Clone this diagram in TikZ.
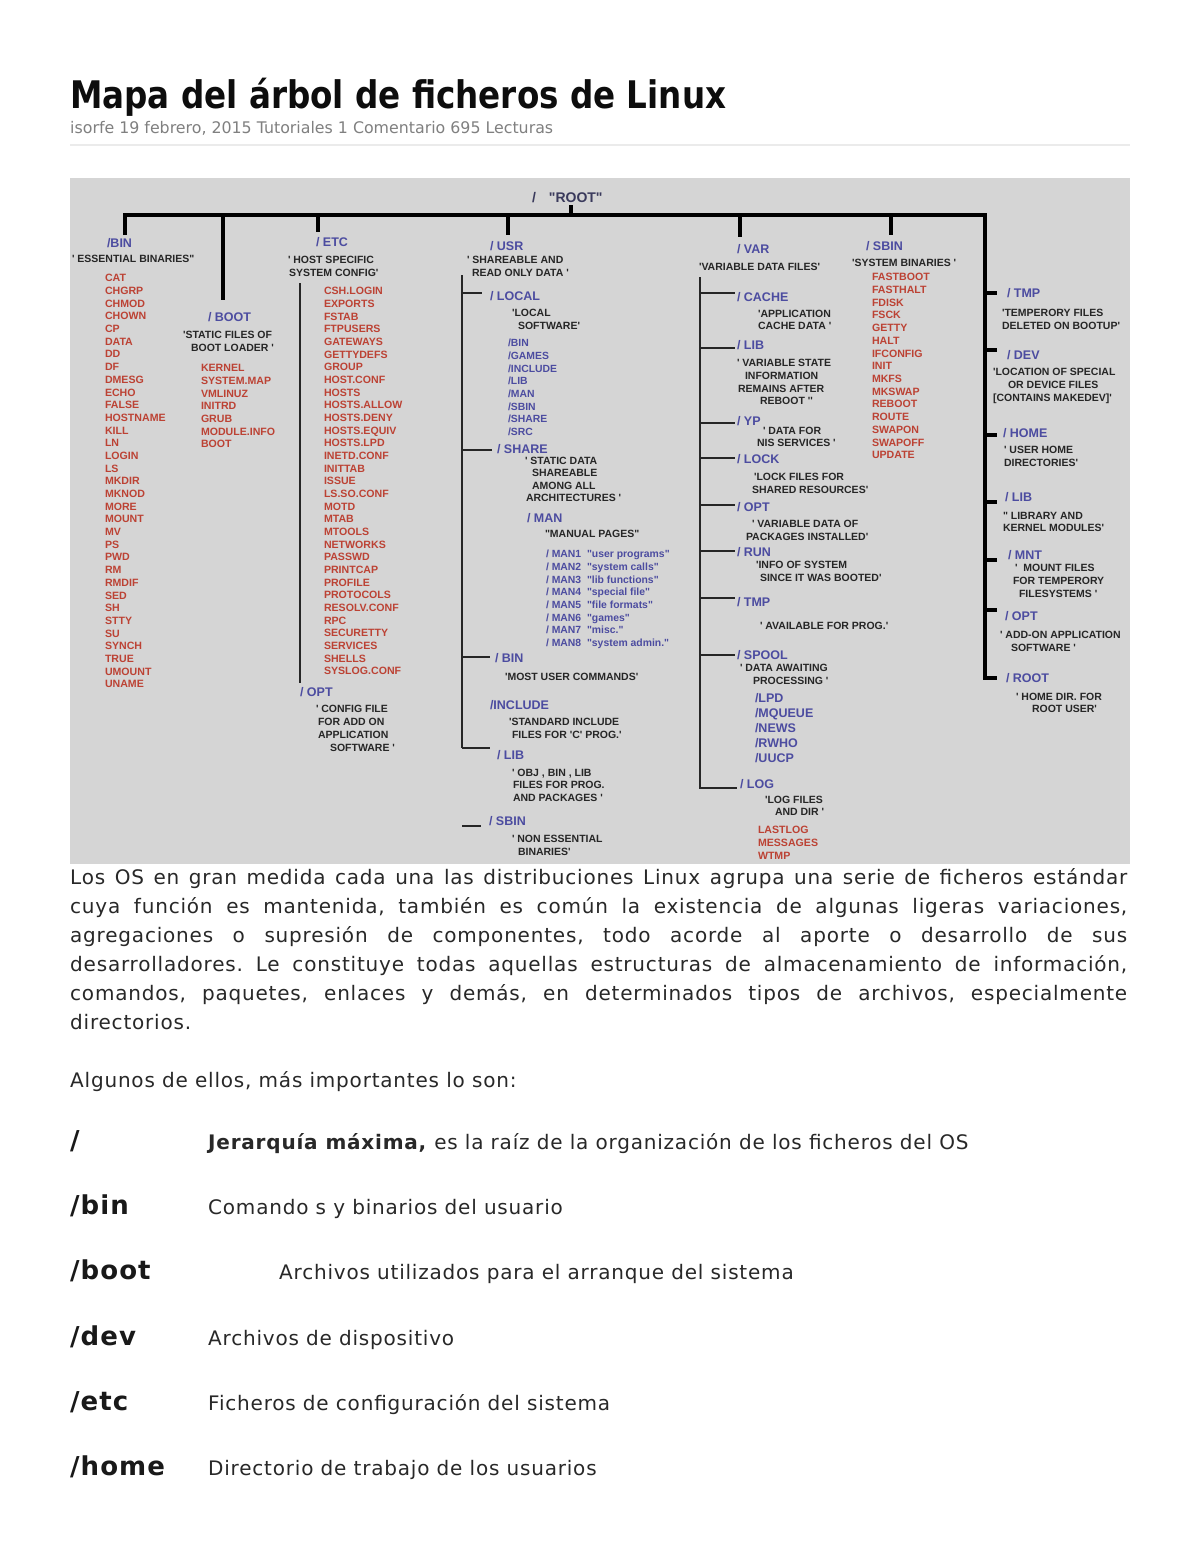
\documentclass[tikz,border=0pt]{standalone}
\usepackage{fontspec}
\setmainfont{DejaVu Sans}
\newfontfamily\bodyf{DejaVu Sans}[LetterSpace=4]
\newfontfamily\arialf{Liberation Sans}
\definecolor{bgc}{RGB}{213,213,213}
\definecolor{bluec}{RGB}{76,76,160}
\definecolor{redc}{RGB}{188,66,52}
\definecolor{rootc}{RGB}{58,58,92}
\definecolor{textc}{RGB}{40,40,40}
\frenchspacing
\newcommand\jl[1]{\hbox to 1057pt{\frenchspacing\spaceskip=0.25em plus 1fil\relax #1}}
\tikzset{
 lbl/.style={anchor=west, inner sep=0pt, outer sep=0pt, text depth=0pt},
 blu/.style={lbl, font=\arialf\bfseries\fontsize{12.5}{12.5}\selectfont, text=bluec, text height=9pt},
 sblu/.style={lbl, font=\arialf\bfseries\fontsize{10.4}{10.4}\selectfont, text=bluec, text height=7.4pt},
 blk/.style={lbl, font=\arialf\bfseries\fontsize{10.5}{10.5}\selectfont, text=black!85, text height=7.5pt},
 redt/.style={lbl, font=\arialf\bfseries\fontsize{10.6}{10.6}\selectfont, text=redc, text height=7.6pt},
 bus/.style={line width=4pt, black},
 sub/.style={line width=1.5pt, black!85},
 bodyt/.style={anchor=base west, inner sep=0pt, text=textc, font=\bodyf\fontsize{20}{29}\selectfont},
 headt/.style={anchor=base west, inner sep=0pt, text=black!90, font=\bodyf\bfseries\fontsize{26}{26}\selectfont},
}
\begin{document}
\begin{tikzpicture}[x=1pt,y=-1pt]
\useasboundingbox (0,0) rectangle (1200,1553);
\fill[white] (0,0) rectangle (1200,1553);
% title
\node[anchor=base west, inner sep=0pt, text=black!95] (title) at (70,108)
  {\resizebox{656pt}{\height}{\fontsize{38}{38}\selectfont\bfseries Mapa del árbol de ficheros de Linux}};
\node[anchor=base west, inner sep=0pt, text=black!50] (sub) at (70,133)
  {\resizebox{483pt}{\height}{\fontsize{16}{16}\selectfont isorfe 19 febrero, 2015 Tutoriales 1 Comentario 695 Lecturas}};
\draw[black!8, line width=1.5pt] (70,145) -- (1130,145);
% diagram background
\fill[bgc] (70,178) rectangle (1130,864);
% root
\node[lbl, font=\arialf\bfseries\fontsize{14}{14}\selectfont, text=rootc, text height=10pt] (root) at (532,197) {/\hspace{13pt}"ROOT"};
\draw[bus] (571,205) -- (571,215);
\draw[bus] (125,235) -- (125,215) -- (985,215) -- (985,680);
\draw[bus] (223,215) -- (223,300);
\draw[bus] (318,215) -- (318,232);
\draw[bus] (508,215) -- (508,235);
\draw[bus] (740,215) -- (740,237);
\draw[bus] (891,215) -- (891,235);
\foreach \yy in {293,350,435,502,560,610,678} \draw[bus] (985,\yy) -- (997,\yy);

% BIN
\node[blu] (bin) at (107,243) {/BIN};
\node[blk] (bind) at (72,259) {' ESSENTIAL BINARIES"};
\foreach \t [count=\i from 0] in {CAT,CHGRP,CHMOD,CHOWN,CP,DATA,DD,DF,DMESG,ECHO,FALSE,HOSTNAME,KILL,LN,LOGIN,LS,MKDIR,MKNOD,MORE,MOUNT,MV,PS,PWD,RM,RMDIF,SED,SH,STTY,SU,SYNCH,TRUE,UMOUNT,UNAME}
  \node[redt] (bin\i) at (105,{278+\i*12.69}) {\t};

% BOOT
\node[blu] (boot) at (208,317) {/ BOOT};
\node[blk] (bootd1) at (183,335) {'STATIC FILES OF};
\node[blk] (bootd2) at (191,348) {BOOT LOADER '};
\foreach \t [count=\i from 0] in {KERNEL,SYSTEM.MAP,VMLINUZ,INITRD,GRUB,MODULE.INFO,BOOT}
  \node[redt] (boot\i) at (201,{368+\i*12.69}) {\t};

% ETC
\node[blu] (etc) at (316,242) {/ ETC};
\node[blk] (etcd1) at (288,260) {' HOST SPECIFIC};
\node[blk] (etcd2) at (289,273) {SYSTEM CONFIG'};
\draw[sub] (300,283) -- (300,683);
\foreach \t [count=\i from 0] in {CSH.LOGIN,EXPORTS,FSTAB,FTPUSERS,GATEWAYS,GETTYDEFS,GROUP,HOST.CONF,HOSTS,HOSTS.ALLOW,HOSTS.DENY,HOSTS.EQUIV,HOSTS.LPD,INETD.CONF,INITTAB,ISSUE,LS.SO.CONF,MOTD,MTAB,MTOOLS,NETWORKS,PASSWD,PRINTCAP,PROFILE,PROTOCOLS,RESOLV.CONF,RPC,SECURETTY,SERVICES,SHELLS,SYSLOG.CONF}
  \node[redt] (etc\i) at (324,{291+\i*12.67}) {\t};
\node[blu] (eopt) at (300,692) {/ OPT};
\node[blk] (eoptd1) at (316,709) {' CONFIG FILE};
\node[blk] (eoptd2) at (318,722) {FOR ADD ON};
\node[blk] (eoptd3) at (318,735) {APPLICATION};
\node[blk] (eoptd4) at (330,748) {SOFTWARE '};

% USR
\node[blu] (usr) at (490,246) {/ USR};
\node[blk] (usrd1) at (467,260) {' SHAREABLE AND};
\node[blk] (usrd2) at (472,273) {READ ONLY DATA '};
\draw[sub] (462,275) -- (462,748);
\draw[sub] (462,293) -- (482,293);
\draw[sub] (462,450) -- (492,450);
\draw[sub] (462,657) -- (490,657);
\draw[sub] (462,748) -- (490,748);
\draw[sub] (462,826) -- (481,826);
\node[blu] (ulocal) at (490,296) {/ LOCAL};
\node[blk] (ulocald1) at (512,313) {'LOCAL};
\node[blk] (ulocald2) at (518,326) {SOFTWARE'};
\foreach \t [count=\i from 0] in {/BIN,/GAMES,/INCLUDE,/LIB,/MAN,/SBIN,/SHARE,/SRC}
  \node[sblu] (ul\i) at (508,{343+\i*12.7}) {\t};
\node[blu] (ushare) at (497,449) {/ SHARE};
\node[blk] (usd1) at (525,461) {' STATIC DATA};
\node[blk] (usd2) at (532,473) {SHAREABLE};
\node[blk] (usd3) at (532,486) {AMONG ALL};
\node[blk] (usd4) at (526,498) {ARCHITECTURES '};
\node[blu] (uman) at (527,518) {/ MAN};
\node[blk] (umand) at (545,534) {"MANUAL PAGES"};
\node[sblu] (man1) at (546,554) {/ MAN1 \ "user programs"};
\node[sblu] (man2) at (546,566.7) {/ MAN2 \ "system calls"};
\node[sblu] (man3) at (546,579.4) {/ MAN3 \ "lib functions"};
\node[sblu] (man4) at (546,592.1) {/ MAN4 \ "special file"};
\node[sblu] (man5) at (546,604.8) {/ MAN5 \ "file formats"};
\node[sblu] (man6) at (546,617.5) {/ MAN6 \ "games"};
\node[sblu] (man7) at (546,630.2) {/ MAN7 \ "misc."};
\node[sblu] (man8) at (546,643) {/ MAN8 \ "system admin."};
\node[blu] (ubin) at (495,658) {/ BIN};
\node[blk] (ubind) at (505,677) {'MOST USER COMMANDS'};
\node[blu] (uinc) at (490,705) {/INCLUDE};
\node[blk] (uincd1) at (509,722) {'STANDARD INCLUDE};
\node[blk] (uincd2) at (512,735) {FILES FOR 'C' PROG.'};
\node[blu] (ulib) at (497,755) {/ LIB};
\node[blk] (ulibd1) at (512,773) {' OBJ , BIN , LIB};
\node[blk] (ulibd2) at (513,785) {FILES FOR PROG.};
\node[blk] (ulibd3) at (513,798) {AND PACKAGES '};
\node[blu] (usbin) at (489,821) {/ SBIN};
\node[blk] (usbind1) at (512,839) {' NON ESSENTIAL};
\node[blk] (usbind2) at (518,852) {BINARIES'};

% VAR
\node[blu] (var) at (737,249) {/ VAR};
\node[blk] (vard) at (699,267) {'VARIABLE DATA FILES'};
\draw[sub] (700,277) -- (700,788) -- (737,788);
\foreach \yy in {293,348,423,458,505,551,598,655} \draw[sub] (700,\yy) -- (735,\yy);
\node[blu] (vcache) at (737,297) {/ CACHE};
\node[blk] (vcd1) at (758,314) {'APPLICATION};
\node[blk] (vcd2) at (758,326) {CACHE DATA '};
\node[blu] (vlib) at (737,345) {/ LIB};
\node[blk] (vld1) at (737,363) {' VARIABLE STATE};
\node[blk] (vld2) at (745,376) {INFORMATION};
\node[blk] (vld3) at (738,389) {REMAINS AFTER};
\node[blk] (vld4) at (760,401) {REBOOT ''};
\node[blu] (vyp) at (737,421) {/ YP};
\node[blk] (vypd1) at (763,431) {' DATA FOR};
\node[blk] (vypd2) at (757,443) {NIS SERVICES '};
\node[blu] (vlock) at (737,459) {/ LOCK};
\node[blk] (vlkd1) at (754,477) {'LOCK FILES FOR};
\node[blk] (vlkd2) at (752,490) {SHARED RESOURCES'};
\node[blu] (vopt) at (737,507) {/ OPT};
\node[blk] (vod1) at (752,524) {' VARIABLE DATA OF};
\node[blk] (vod2) at (746,537) {PACKAGES INSTALLED'};
\node[blu] (vrun) at (737,552) {/ RUN};
\node[blk] (vrd1) at (756,565) {'INFO OF SYSTEM};
\node[blk] (vrd2) at (760,578) {SINCE IT WAS BOOTED'};
\node[blu] (vtmp) at (737,602) {/ TMP};
\node[blk] (vtd) at (760,626) {' AVAILABLE FOR PROG.'};
\node[blu] (vspool) at (737,655) {/ SPOOL};
\node[blk] (vsd1) at (740,668) {' DATA AWAITING};
\node[blk] (vsd2) at (753,681) {PROCESSING '};
\foreach \t [count=\i from 0] in {/LPD,/MQUEUE,/NEWS,/RWHO,/UUCP}
  \node[blu] (vs\i) at (755,{698+\i*15}) {\t};
\node[blu] (vlog) at (740,784) {/ LOG};
\node[blk] (vlgd1) at (765,800) {'LOG FILES};
\node[blk] (vlgd2) at (775,812) {AND DIR '};
\foreach \t [count=\i from 0] in {LASTLOG,MESSAGES,WTMP}
  \node[redt] (vlg\i) at (758,{830+\i*13}) {\t};

% SBIN
\node[blu] (sbin) at (866,246) {/ SBIN};
\node[blk] (sbind) at (852,263) {'SYSTEM BINARIES '};
\foreach \t [count=\i from 0] in {FASTBOOT,FASTHALT,FDISK,FSCK,GETTY,HALT,IFCONFIG,INIT,MKFS,MKSWAP,REBOOT,ROUTE,SWAPON,SWAPOFF,UPDATE}
  \node[redt] (sb\i) at (872,{277+\i*12.71}) {\t};

% right column
\node[blu] (rtmp) at (1007,293) {/ TMP};
\node[blk] (rtd1) at (1002,313) {'TEMPERORY FILES};
\node[blk] (rtd2) at (1002,326) {DELETED ON BOOTUP'};
\node[blu] (rdev) at (1007,355) {/ DEV};
\node[blk] (rdd1) at (993,372) {'LOCATION OF SPECIAL};
\node[blk] (rdd2) at (1008,385) {OR DEVICE FILES};
\node[blk] (rdd3) at (993,398) {[CONTAINS MAKEDEV]'};
\node[blu] (rhome) at (1003,433) {/ HOME};
\node[blk] (rhd1) at (1004,450) {' USER HOME};
\node[blk] (rhd2) at (1004,463) {DIRECTORIES'};
\node[blu] (rlib) at (1005,497) {/ LIB};
\node[blk] (rld1) at (1003,516) {" LIBRARY AND};
\node[blk] (rld2) at (1003,528) {KERNEL MODULES'};
\node[blu] (rmnt) at (1008,555) {/ MNT};
\node[blk] (rmd1) at (1015,568) {' \ MOUNT FILES};
\node[blk] (rmd2) at (1013,581) {FOR TEMPERORY};
\node[blk] (rmd3) at (1019,594) {FILESYSTEMS '};
\node[blu] (ropt) at (1005,616) {/ OPT};
\node[blk] (rod1) at (1000,635) {' ADD-ON APPLICATION};
\node[blk] (rod2) at (1011,648) {SOFTWARE '};
\node[blu] (rroot) at (1006,678) {/ ROOT};
\node[blk] (rrd1) at (1016,697) {' HOME DIR. FOR};
\node[blk] (rrd2) at (1032,709) {ROOT USER'};

% body text
\node[bodyt] (p1) at (70,884) {\jl{Los OS en gran medida cada una las distribuciones Linux agrupa una serie de ficheros estándar}};
\node[bodyt] (p2) at (70,913) {\jl{cuya función es mantenida, también es común la existencia de algunas ligeras variaciones,}};
\node[bodyt] (p3) at (70,942) {\jl{agregaciones o supresión de componentes, todo acorde al aporte o desarrollo de sus}};
\node[bodyt] (p4) at (70,971) {\jl{desarrolladores. Le constituye todas aquellas estructuras de almacenamiento de información,}};
\node[bodyt] (p5) at (70,1000) {\jl{comandos, paquetes, enlaces y demás, en determinados tipos de archivos, especialmente}};
\node[bodyt] (p6) at (70,1029) {directorios.};
\node[bodyt] (p7) at (70,1087) {Algunos de ellos, más importantes lo son:};

\node[headt] (h1) at (70,1149) {/};
\node[bodyt] (d1) at (208,1149) {\textbf{Jerarquía máxima,} es la raíz de la organización de los ficheros del OS};
\node[headt] (h2) at (70,1214) {/bin};
\node[bodyt] (d2) at (208,1214) {Comando s y binarios del usuario};
\node[headt] (h3) at (70,1279) {/boot};
\node[bodyt] (d3) at (279,1279) {Archivos utilizados para el arranque del sistema};
\node[headt] (h4) at (70,1345) {/dev};
\node[bodyt] (d4) at (208,1345) {Archivos de dispositivo};
\node[headt] (h5) at (70,1410) {/etc};
\node[bodyt] (d5) at (208,1410) {Ficheros de configuración del sistema};
\node[headt] (h6) at (70,1475) {/home};
\node[bodyt] (d6) at (208,1475) {Directorio de trabajo de los usuarios};
\end{tikzpicture}
\end{document}
